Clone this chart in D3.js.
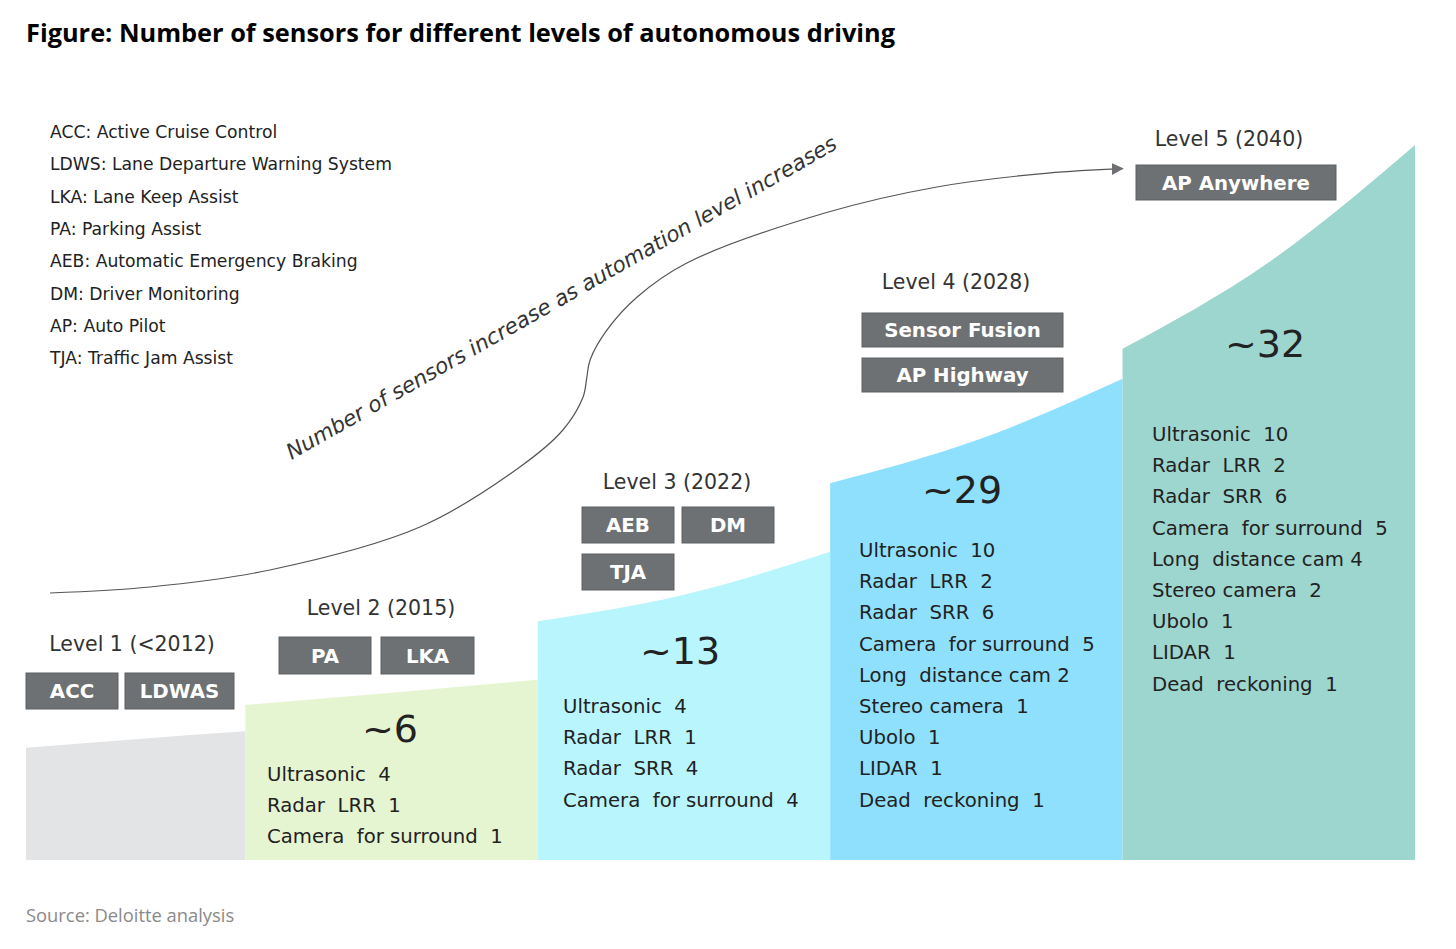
<!DOCTYPE html>
<html><head><meta charset="utf-8">
<script src="https://cdn.jsdelivr.net/npm/d3@7"></script>
<style>
html,body{margin:0;padding:0;background:#fff;}
svg text{white-space:pre;}
</style></head>
<body>
<svg id="chart" width="1456" height="949"></svg>
<script>
// ---------------- DATA ----------------
const title = "Figure: Number of sensors for different levels of autonomous driving";
const source = "Source: Deloitte analysis";
const levelLabels = ["Level 1 (<2012)", "Level 2 (2015)", "Level 3 (2022)", "Level 4 (2028)", "Level 5 (2040)"];
const totals = ["", "~6", "~13", "~29", "~32"];
const features = [["ACC", "LDWAS"], ["PA", "LKA"], ["AEB", "DM", "TJA"], ["Sensor Fusion", "AP Highway"], ["AP Anywhere"]];
const sensorNames = [
  [],
  ["Ultrasonic  ", "Radar  LRR  ", "Camera  for surround  "],
  ["Ultrasonic  ", "Radar  LRR  ", "Radar  SRR  ", "Camera  for surround  "],
  ["Ultrasonic  ", "Radar  LRR  ", "Radar  SRR  ", "Camera  for surround  ", "Long  distance cam ", "Stereo camera  ", "Ubolo  ", "LIDAR  ", "Dead  reckoning  "],
  ["Ultrasonic  ", "Radar  LRR  ", "Radar  SRR  ", "Camera  for surround  ", "Long  distance cam ", "Stereo camera  ", "Ubolo  ", "LIDAR  ", "Dead  reckoning  "]
];
const sensorCounts = [
  [],
  [4, 1, 1],
  [4, 1, 4, 4],
  [10, 2, 6, 5, 2, 1, 1, 1, 1],
  [10, 2, 6, 5, 4, 2, 1, 1, 1]
];
const glossary = [
  "ACC: Active Cruise Control",
  "LDWS: Lane Departure Warning System",
  "LKA: Lane Keep Assist",
  "PA: Parking Assist",
  "AEB: Automatic Emergency Braking",
  "DM: Driver Monitoring",
  "AP: Auto Pilot",
  "TJA: Traffic Jam Assist"
];
// illustrative growth curve (start, middle, end of each level) in index units
const curveStart = [15.7, 21.7, 33.4, 52.7, 71.5];
const curveMid   = [16.9, 23.4, 37.1, 58.7, 83.6];
const curveEnd   = [18.0, 25.2, 43.1, 67.3, 100];
const trendLabel = "Number of sensors increase as automation level increases";
const trendX = [0.332, 0.674, 1.084, 1.597, 1.939, 2.086, 2.155, 2.168, 2.179, 2.237, 2.340, 2.510, 2.982, 3.365, 3.745, 4.0];
const trendY = [37.34, 38.18, 40.56, 46.57, 54.97, 60.14, 64.76, 67.55, 69.93, 74.13, 78.74, 83.50, 90.49, 94.13, 96.08, 96.7];

// ---------------- STYLE / LAYOUT ----------------
const fills = ["#e3e4e6", "#e6f5d1", "#b9f5fd", "#8ee0fd", "#9dd5cf"];
const bodyFont = "DejaVu Sans, Verdana, sans-serif";
const svg = d3.select("#chart");
const x = d3.scaleLinear().domain([0.25, 5]).range([26, 1415]);
const y = d3.scaleLinear().domain([0, 100]).range([860, 145]);
const levelStart = i => (i === 0 ? 0.25 : i);

// areas
const area = d3.area().x(d => x(d[0])).y0(y(0)).y1(d => y(d[1])).curve(d3.curveMonotoneX);
levelLabels.forEach((_, i) => {
  const s = levelStart(i), e = i + 1;
  svg.append("path")
    .attr("d", area([[s, curveStart[i]], [(s + e) / 2, curveMid[i]], [e, curveEnd[i]]]))
    .attr("fill", fills[i]);
});

// title
svg.append("text").attr("x", 26).attr("y", 42).text(title)
  .attr("font-family", "Open Sans, sans-serif").attr("font-weight", 700)
  .attr("font-size", 25.35).attr("fill", "#000");

// source
svg.append("text").attr("x", 26).attr("y", 922).text(source)
  .attr("font-family", "Open Sans, sans-serif").attr("font-size", 18.35).attr("fill", "#8a8a8a");

// glossary
svg.append("g").selectAll("text").data(glossary).join("text")
  .attr("x", 50).attr("y", (d, i) => 138 + i * 32.3).text(d => d)
  .attr("font-family", bodyFont).attr("font-size", 17.2).attr("fill", "#222");

// trend arrow
svg.append("defs").append("marker").attr("id", "arr").attr("viewBox", "0 0 10 10")
  .attr("refX", 9).attr("refY", 5).attr("markerWidth", 12).attr("markerHeight", 12)
  .attr("markerUnits", "userSpaceOnUse").attr("orient", "auto")
  .append("path").attr("d", "M0,0L10,5L0,10Z").attr("fill", "#6d6f72");
const line = d3.line().x(d => x(d[0])).y(d => y(d[1])).curve(d3.curveCatmullRom.alpha(0.5));
svg.append("path").attr("d", line(trendX.map((v, i) => [v, trendY[i]])))
  .attr("fill", "none").attr("stroke", "#555").attr("stroke-width", 1.2)
  .attr("marker-end", "url(#arr)");
svg.append("text").attr("transform", "translate(565,304) rotate(-29.7)")
  .attr("text-anchor", "middle").text(trendLabel)
  .attr("font-family", bodyFont).attr("font-style", "italic").attr("font-size", 21.5).attr("fill", "#333");

// per-level layout (pixels)
const labelPos = [[132, 651], [381, 615], [677, 489], [956, 289], [1229, 146]];
const boxes = [
  [[26, 673, 92, 36], [125, 673, 109, 36]],
  [[279, 637, 92, 37], [381, 637, 93, 37]],
  [[582, 507, 92, 36], [682, 507, 92, 36], [582, 554, 92, 36]],
  [[862, 313, 201, 34], [862, 358, 201, 34]],
  [[1136, 165, 200, 35]]
];
const totalPos = [null, [390, 742], [680, 664], [962, 503], [1265, 357]];
const listPos = [null, [267, 781], [563, 713], [859, 557], [1152, 441]];
const listStep = 31.2;

levelLabels.forEach((lab, i) => {
  const g = svg.append("g");
  g.append("text").attr("x", labelPos[i][0]).attr("y", labelPos[i][1]).attr("text-anchor", "middle")
    .text(lab).attr("font-family", bodyFont).attr("font-size", 20.5).attr("fill", "#333");
  features[i].forEach((f, j) => {
    const b = boxes[i][j];
    g.append("rect").attr("x", b[0]).attr("y", b[1]).attr("width", b[2]).attr("height", b[3])
      .attr("fill", "#6e7174").attr("stroke", "#5d6063").attr("stroke-width", 1);
    g.append("text").attr("x", b[0] + b[2] / 2).attr("y", b[1] + b[3] / 2 + 7).attr("text-anchor", "middle")
      .text(f).attr("font-family", bodyFont).attr("font-weight", 700).attr("font-size", 19.8).attr("fill", "#fff");
  });
  if (totals[i]) {
    g.append("text").attr("x", totalPos[i][0]).attr("y", totalPos[i][1]).attr("text-anchor", "middle")
      .text(totals[i]).attr("font-family", bodyFont).attr("font-size", 38).attr("fill", "#222");
  }
  sensorNames[i].forEach((n, j) => {
    g.append("text").attr("x", listPos[i][0]).attr("y", listPos[i][1] + j * listStep)
      .text(n + sensorCounts[i][j]).attr("font-family", bodyFont).attr("font-size", 19.7).attr("fill", "#222");
  });
});
</script>
</body></html>
